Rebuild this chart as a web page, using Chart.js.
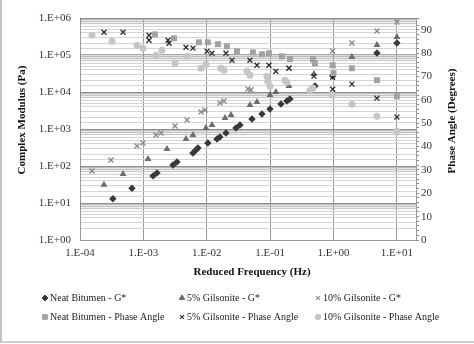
<!DOCTYPE html>
<html>
<head>
<meta charset="utf-8">
<script src="https://cdn.jsdelivr.net/npm/chart.js@4.4.0/dist/chart.umd.min.js"></script>
<style>
html, body { margin: 0; padding: 0; background: #fff; }
#wrap { position: relative; width: 474px; height: 344px; }
#frame { position: absolute; left: 0; top: 0; width: 472px; height: 341px; border-left: 2px solid #c4c4c4; border-bottom: 2px solid #cfcfcf; pointer-events: none; }
</style>
</head>
<body>
<div id="wrap">
    <canvas id="chart" width="474" height="344"></canvas>
    <div id="frame"></div>
</div>
<script>
// reduced frequency (Hz) and values for each series
const neatGFreq = [3.3e-4, 6.6e-4, 1.42e-3, 1.64e-3, 2.93e-3, 3.39e-3, 6.06e-3, 6.76e-3, 7.26e-3, 1.04e-2, 1.45e-2, 1.61e-2, 2.01e-2, 2.89e-2, 3.34e-2, 5.16e-2, 7.43e-2, 9.93e-2, 0.148, 0.184, 0.205, 0.509, 0.97, 4.84, 10];
const neatG = [13, 25, 54, 65, 106, 128, 224, 270, 306, 419, 537, 608, 780, 1064, 1282, 1862, 2541, 3475, 4742, 5714, 6471, 14520, 27060, 113200, 211000];

const gil5GFreq = [2.39e-4, 4.77e-4, 1.18e-3, 2.36e-3, 4.7e-3, 6.06e-3, 9.7e-3, 1.21e-2, 1.94e-2, 2.41e-2, 4.8e-2, 6.19e-2, 9.93e-2, 0.123, 0.198, 0.491, 0.97, 1.95, 4.84, 10];
const gil5G = [31, 61, 154, 288, 537, 689, 1064, 1282, 1982, 2388, 4455, 5370, 8299, 10000, 14520, 30600, 50470, 88300, 186000, 306000];

const gil10GFreq = [1.55e-4, 3.08e-4, 7.93e-4, 9.86e-4, 1.58e-3, 1.9e-3, 3.15e-3, 4.88e-3, 8.1e-3, 9.38e-3, 1.61e-2, 1.87e-2, 4.47e-2, 4.98e-2, 8.91e-2, 0.198, 0.473, 0.97, 1.95, 4.84, 10];
const gil10G = [73, 145, 347, 419, 689, 780, 1205, 1750, 2878, 3265, 5046, 5714, 12050, 11500, 21090, 44560, 73300, 128000, 211000, 446000, 780000];

const neatPAFreq = [1.52e-3, 3.04e-3, 7.53e-3, 1.04e-2, 1.5e-2, 2.08e-2, 2.99e-2, 5.36e-2, 7.43e-2, 9.57e-2, 0.153, 0.205, 0.473, 0.509, 0.97, 1.0, 1.95, 4.84, 10];
const neatPA = [88.0, 86.3, 84.6, 84.6, 83.8, 82.9, 80.8, 80.3, 79.5, 79.9, 78.6, 77.4, 77.4, 75.6, 74.8, 71.4, 73.5, 68.4, 61.5];

const gil5PAFreq = [2.39e-4, 4.77e-4, 1.23e-3, 1.23e-3, 2.45e-3, 2.54e-3, 4.7e-3, 6.06e-3, 1.01e-2, 1.21e-2, 2.01e-2, 2.5e-2, 4.8e-2, 6.19e-2, 9.57e-2, 0.123, 0.198, 0.491, 0.97, 0.97, 1.95, 4.84, 10];
const gil5PA = [88.9, 88.9, 87.6, 85.5, 85.5, 84.2, 82.5, 82.1, 80.8, 79.9, 79.9, 76.9, 76.9, 74.8, 74.8, 72.2, 73.5, 70.1, 69.7, 64.5, 66.7, 60.7, 52.6];

const gil10PAFreq = [1.55e-4, 3.2e-4, 7.93e-4, 9.86e-4, 1.58e-3, 1.96e-3, 3.15e-3, 4.88e-3, 8.1e-3, 9.7e-3, 1.67e-2, 1.87e-2, 4.31e-2, 4.8e-2, 8.91e-2, 9.23e-2, 9.93e-2, 0.171, 0.184, 0.425, 0.473, 0.94, 1.95, 4.84, 10];
const gil10PA = [87.6, 85.0, 83.3, 82.1, 79.1, 81.2, 75.6, 78.6, 73.5, 75.2, 73.5, 72.6, 72.2, 70.5, 70.1, 67.9, 65.8, 68.4, 67.5, 64.1, 65.0, 62.0, 58.1, 53.0, 46.6];

const seriesLabels = ['Neat Bitumen - G*', '5% Gilsonite - G*', '10% Gilsonite - G*',
    'Neat Bitumen - Phase Angle', '5% Gilsonite - Phase Angle', '10% Gilsonite - Phase Angle'];
const phaseTicks = [0, 10, 20, 30, 40, 50, 60, 70, 80, 90];

const FONT = '"Liberation Serif", "Times New Roman", serif';

function toPoints(xs, ys) {
    return xs.map((x, i) => ({ x: x, y: ys[i] }));
}

function isDecade(v) {
    const e = Math.log10(v);
    return Math.abs(e - Math.round(e)) < 1e-6;
}

function expLabel(v) {
    const e = Math.round(Math.log10(v));
    const s = String(Math.abs(e)).padStart(2, '0');
    return '1.E' + (e < 0 ? '-' : '+') + s;
}

const styles = [
    { pointStyle: 'rectRot', radius: 3.7, color: '#383838', axis: 'yG' },
    { pointStyle: 'triangle', radius: 4, color: '#6c6c6c', axis: 'yG' },
    { pointStyle: 'crossRot', radius: 3.5, color: '#888888', axis: 'yG' },
    { pointStyle: 'rect', radius: 4.2, color: '#a2a2a2', axis: 'yP' },
    { pointStyle: 'crossRot', radius: 3.5, color: '#2e2e2e', axis: 'yP' },
    { pointStyle: 'circle', radius: 3.5, color: '#c6c6c6', axis: 'yP' }
];
const seriesData = [
    toPoints(neatGFreq, neatG), toPoints(gil5GFreq, gil5G), toPoints(gil10GFreq, gil10G),
    toPoints(neatPAFreq, neatPA), toPoints(gil5PAFreq, gil5PA), toPoints(gil10PAFreq, gil10PA)
];

// draw order: phase angle markers behind the modulus markers
const drawOrder = [3, 5, 4, 0, 1, 2];
const datasets = drawOrder.map(i => ({
    label: seriesLabels[i],
    data: seriesData[i],
    yAxisID: styles[i].axis,
    pointStyle: styles[i].pointStyle,
    pointRadius: styles[i].radius,
    pointHoverRadius: styles[i].radius,
    backgroundColor: styles[i].color,
    borderColor: styles[i].color,
    pointBorderWidth: styles[i].pointStyle === 'crossRot' ? 1.3 : 0,
    showLine: false
}));

const decor = {
    id: 'decor',
    beforeDatasetsDraw(chart) {
        const ctx = chart.ctx;
        const area = chart.chartArea;
        const yG = chart.scales.yG;
        ctx.save();
        for (let n = 1; n <= 6; n++) {
            const top = yG.getPixelForValue(Math.pow(10, n));
            const bot = yG.getPixelForValue(6 * Math.pow(10, n - 1));
            const g = ctx.createLinearGradient(0, top, 0, bot);
            g.addColorStop(0, 'rgba(0,0,0,0.14)');
            g.addColorStop(1, 'rgba(0,0,0,0)');
            ctx.fillStyle = g;
            ctx.fillRect(area.left, top, area.right - area.left, bot - top);
        }
        ctx.restore();
    },
    afterDraw(chart) {
        const ctx = chart.ctx;
        ctx.save();
        ctx.fillStyle = '#111';
        ctx.font = 'bold 11px ' + FONT;
        ctx.textAlign = 'center';
        ctx.textBaseline = 'middle';
        ctx.fillText('Reduced Frequency (Hz)', 252, 272);

        ctx.save();
        ctx.translate(22, 120);
        ctx.rotate(-Math.PI / 2);
        ctx.fillText('Complex Modulus (Pa)', 0, 0);
        ctx.restore();

        ctx.save();
        ctx.translate(452, 121);
        ctx.rotate(-Math.PI / 2);
        ctx.fillText('Phase Angle (Degrees)', 0, 0);
        ctx.restore();

        // legend, 3 columns x 2 rows
        const colX = [45, 182, 318];
        const rowY = [298, 317];
        ctx.font = '10px ' + FONT;
        ctx.textAlign = 'left';
        seriesLabels.forEach((label, i) => {
            const x = colX[i % 3];
            const y = rowY[Math.floor(i / 3)];
            const st = styles[i];
            ctx.save();
            ctx.fillStyle = st.color;
            ctx.strokeStyle = st.color;
            ctx.lineWidth = st.pointStyle === 'crossRot' ? 1.1 : 0;
            Chart.helpers.drawPoint(ctx, { pointStyle: st.pointStyle, radius: st.radius * 0.8, rotation: 0, borderWidth: ctx.lineWidth }, x, y);
            ctx.restore();
            ctx.fillStyle = '#222';
            ctx.fillText(label, x + 5, y + 0.5);
        });
        ctx.restore();
    }
};

new Chart(document.getElementById('chart'), {
    type: 'scatter',
    data: { datasets: datasets },
    options: {
        responsive: false,
        animation: false,
        events: [],
        layout: { padding: { top: 18, left: 0, right: 0, bottom: 64 } },
        plugins: { legend: { display: false }, tooltip: { enabled: false } },
        scales: {
            x: {
                type: 'logarithmic',
                min: 1e-4,
                max: 20,
                afterFit: s => { s.height = 40; },
                grid: { color: '#9a9a9a', drawTicks: false },
                border: { color: '#9a9a9a' },
                ticks: {
                    autoSkip: false,
                    maxRotation: 0,
                    padding: 7,
                    color: '#333',
                    font: { family: FONT, size: 11 },
                    callback: v => isDecade(v) ? expLabel(v) : null
                }
            },
            yG: {
                type: 'logarithmic',
                position: 'left',
                min: 1,
                max: 1e6,
                afterFit: s => { s.width = 80; },
                grid: {
                    drawTicks: false,
                    color: c => isDecade(c.tick.value) ? '#a6a6a6' : '#d4d4d4'
                },
                border: { color: '#9a9a9a' },
                ticks: {
                    autoSkip: false,
                    padding: 9,
                    color: '#333',
                    font: { family: FONT, size: 11 },
                    callback: v => isDecade(v) ? expLabel(v) : ''
                }
            },
            yP: {
                type: 'linear',
                position: 'right',
                min: 0,
                max: 95,
                afterFit: s => { s.width = 58; },
                grid: { drawOnChartArea: false, drawTicks: true, tickLength: 3, color: '#8a8a8a' },
                border: { color: '#9a9a9a' },
                ticks: {
                    stepSize: 2,
                    autoSkip: false,
                    padding: 2,
                    color: '#333',
                    font: { family: FONT, size: 11 },
                    callback: v => phaseTicks.includes(v) ? String(v) : ''
                }
            }
        }
    },
    plugins: [decor]
});
</script>
</body>
</html>
